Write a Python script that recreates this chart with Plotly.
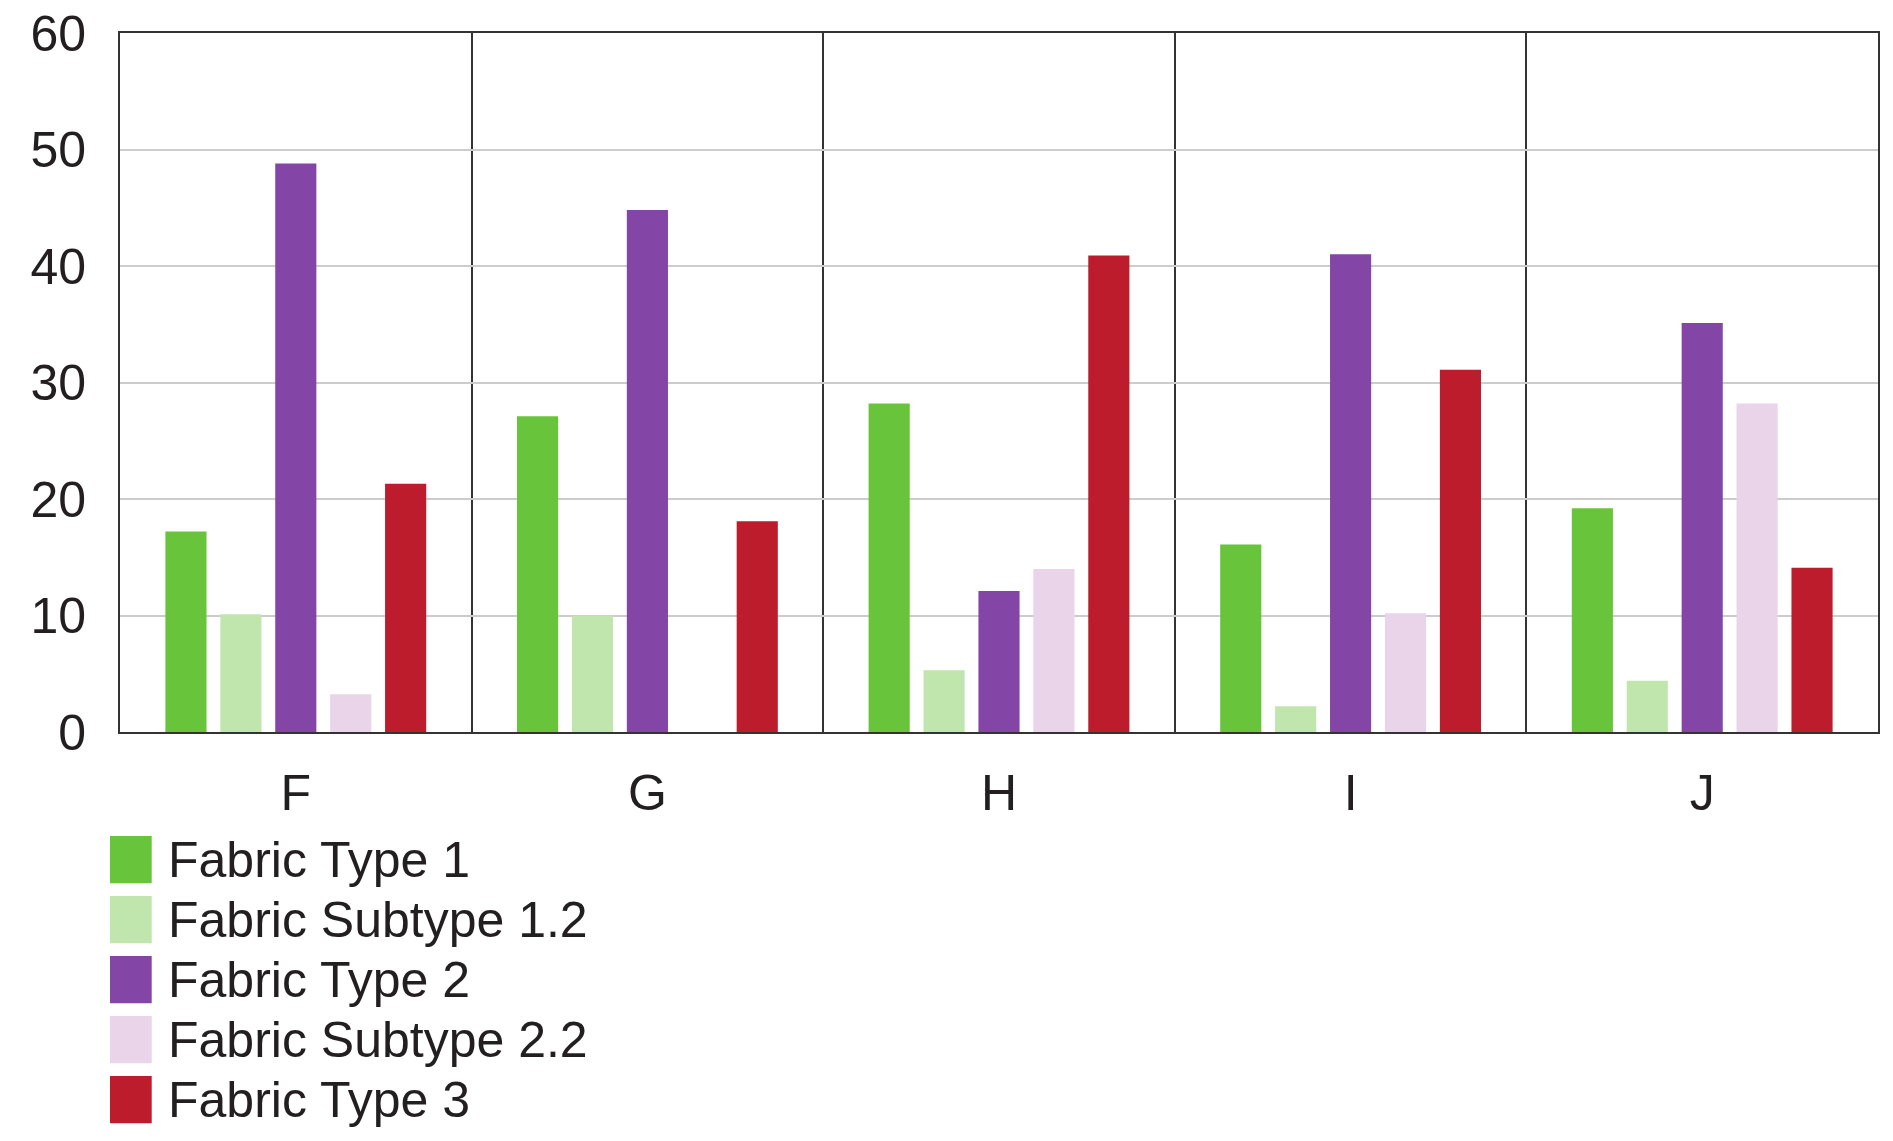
import plotly.graph_objects as go

categories = ["F", "G", "H", "I", "J"]
series_names = ["Fabric Type 1", "Fabric Subtype 1.2", "Fabric Type 2", "Fabric Subtype 2.2", "Fabric Type 3"]
fabric_type_1 = [17.2, 27.1, 28.2, 16.1, 19.2]
fabric_subtype_1_2 = [10.1, 10.0, 5.3, 2.2, 4.4]
fabric_type_2 = [48.8, 44.8, 12.1, 41.0, 35.1]
fabric_subtype_2_2 = [3.25, 0, 14.0, 10.2, 28.2]
fabric_type_3 = [21.3, 18.1, 40.9, 31.1, 14.1]
series_values = [fabric_type_1, fabric_subtype_1_2, fabric_type_2, fabric_subtype_2_2, fabric_type_3]
colors = ["#68c43b", "#c1e6ad", "#8446a6", "#e9d4ea", "#bc1c2c"]
y_ticks = [0, 10, 20, 30, 40, 50, 60]

FONT = "Liberation Sans, Arial, Helvetica, sans-serif"
TEXT = "#231f20"

fig = go.Figure()
for name, vals, col in zip(series_names, series_values, colors):
    fig.add_trace(go.Bar(x=categories, y=vals, name=name, marker=dict(color=col, line=dict(width=0))))

# custom legend (large swatches) built from the series lists
row_h = 60
first_row = -127.7
for i, (name, col) in enumerate(zip(series_names, colors)):
    cy = first_row - i * row_h
    fig.add_shape(type="rect", xref="paper", yref="paper",
                  xsizemode="pixel", ysizemode="pixel", xanchor=0, yanchor=0,
                  x0=-10, x1=31.7, y0=cy - 23.6, y1=cy + 23.6,
                  fillcolor=col, line=dict(width=0), layer="above")
    fig.add_annotation(xref="paper", yref="paper", x=0, y=0, xshift=46, yshift=cy,
                       xanchor="left", yanchor="middle", text=name, showarrow=False,
                       font=dict(size=50, color=TEXT, family=FONT))

fig.update_layout(
    width=1893, height=1141,
    margin=dict(l=120, r=15, t=33, b=409),
    paper_bgcolor="white", plot_bgcolor="white",
    barmode="group", bargap=0.219, bargroupgap=0.251,
    showlegend=False,
    font=dict(family=FONT, size=50, color=TEXT),
)
fig.update_xaxes(
    automargin=False,
    showline=True, linecolor="#333333", linewidth=2, mirror=True,
    showgrid=True, gridcolor="#333333", gridwidth=2, tickson="boundaries",
    ticks="", ticklabelstandoff=16, tickfont=dict(size=50, color=TEXT),
)
fig.update_yaxes(
    automargin=False,
    range=[0, 60], tickvals=y_ticks, ticktext=[str(v) for v in y_ticks],
    showline=True, linecolor="#333333", linewidth=2, mirror=True,
    showgrid=True, gridcolor="#cccccc", gridwidth=1.5, zeroline=False,
    ticks="", ticklabelstandoff=22, tickfont=dict(size=50, color=TEXT),
)

fig.write_html("out.html")
